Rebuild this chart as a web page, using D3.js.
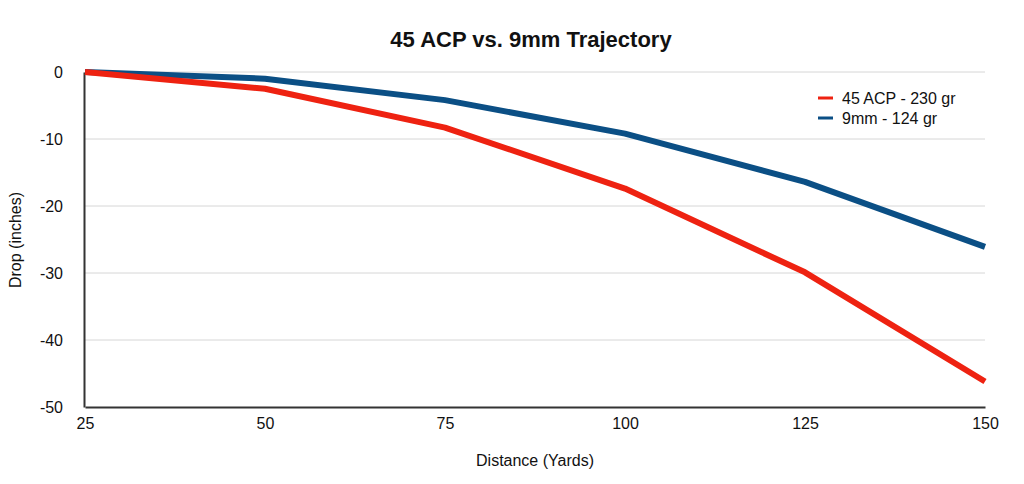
<!DOCTYPE html>
<html>
<head>
<meta charset="utf-8">
<script src="https://cdn.jsdelivr.net/npm/d3@7"></script>
<style>
  body { margin: 0; background: #fff; }
  text { font-family: "Liberation Sans", Arial, sans-serif; fill: #111; }
</style>
</head>
<body>
<div id="chart"></div>
<script>
var distances = [25, 50, 75, 100, 125, 150];
var acpDrop = [0, -2.5, -8.3, -17.4, -29.9, -46.2];
var nineDrop = [0, -1.0, -4.2, -9.2, -16.4, -26.1];
var seriesNames = ["45 ACP - 230 gr", "9mm - 124 gr"];
var seriesColors = ["#ee2211", "#0b4f85"];
var yTicks = [0, -10, -20, -30, -40, -50];

var width = 1024, height = 484;
var margin = {top: 72, right: 39, bottom: 77, left: 85};

var svg = d3.select("#chart").append("svg")
    .attr("width", width)
    .attr("height", height);

var x = d3.scaleLinear()
    .domain([25, 150])
    .range([margin.left, width - margin.right]);
var y = d3.scaleLinear()
    .domain([0, -50])
    .range([margin.top, height - margin.bottom]);

// gridlines
svg.append("g")
    .selectAll("line")
    .data(yTicks.slice(0, -1))
    .enter().append("line")
    .attr("x1", x(25))
    .attr("x2", x(150))
    .attr("y1", d => y(d))
    .attr("y2", d => y(d))
    .attr("stroke", "#d6d6d6")
    .attr("stroke-width", 1);

// y axis
var yAxis = svg.append("g")
    .attr("transform", "translate(" + (margin.left - 1) + ",0)")
    .call(d3.axisLeft(y).tickValues(yTicks).tickSize(0).tickPadding(21)
        .tickFormat(d => String(d)));
yAxis.select(".domain").attr("stroke", "#333").attr("stroke-width", 2);
yAxis.selectAll("text").style("font-size", "16px").attr("dy", "0.32em");

// x axis
var xAxis = svg.append("g")
    .attr("transform", "translate(0," + (height - margin.bottom) + ")")
    .call(d3.axisBottom(x).tickValues(distances).tickSize(0).tickPadding(11));
xAxis.select(".domain").attr("stroke", "#333").attr("stroke-width", 2);
xAxis.selectAll("text").style("font-size", "16px");

// lines
var line = d3.line()
    .x((d, i) => x(distances[i]))
    .y(d => y(d));

[nineDrop, acpDrop].forEach(function (s, k) {
    svg.append("path")
        .datum(s)
        .attr("d", line)
        .attr("fill", "none")
        .attr("stroke", seriesColors[1 - k])
        .attr("stroke-width", 6)
        .attr("stroke-linejoin", "round");
});

// title
svg.append("text")
    .attr("x", 531)
    .attr("y", 47)
    .attr("text-anchor", "middle")
    .style("font-size", "22px")
    .style("font-weight", "bold")
    .text("45 ACP vs. 9mm Trajectory");

// axis labels
svg.append("text")
    .attr("x", 535)
    .attr("y", 466)
    .attr("text-anchor", "middle")
    .style("font-size", "16px")
    .text("Distance (Yards)");

svg.append("text")
    .attr("transform", "translate(21,240) rotate(-90)")
    .attr("text-anchor", "middle")
    .style("font-size", "16px")
    .text("Drop (inches)");

// legend
var legend = svg.append("g")
    .selectAll("g")
    .data(seriesNames)
    .enter().append("g")
    .attr("transform", (d, i) => "translate(818," + (98 + i * 20) + ")");
legend.append("line")
    .attr("x1", 0).attr("x2", 15)
    .attr("stroke", (d, i) => seriesColors[i])
    .attr("stroke-width", 3);
legend.append("text")
    .attr("x", 24)
    .attr("dy", "0.35em")
    .style("font-size", "16px")
    .text(d => d);
</script>
</body>
</html>
